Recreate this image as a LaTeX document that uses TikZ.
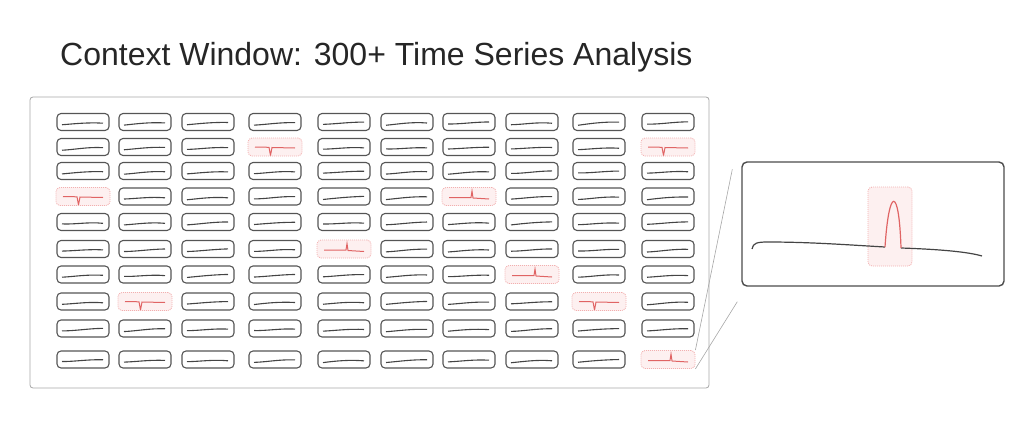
\documentclass[tikz,border=0pt]{standalone}
\usepackage{fontspec}
\setmainfont{Liberation Sans}
\definecolor{boxgray}{HTML}{555555}
\definecolor{linegray}{HTML}{444444}
\definecolor{hotred}{HTML}{E06464}
\definecolor{hotpink}{HTML}{F2AFAF}
\definecolor{hotfill}{HTML}{FDF0F0}

\begin{document}
\begin{tikzpicture}
[x=1pt,y=-1pt,%
  sparkline/.style={solid,sharp corners,draw=linegray,line width=1.1pt},%
  redline/.style={solid,sharp corners,draw=hotred,line width=1pt},%
  connector/.style={-,draw=black!35,line width=0.6pt},%
  plainbox/.style={shape=rectangle,draw=boxgray,line width=1.1pt,rounded corners=4pt,%
    minimum width=52pt,minimum height=17pt,inner sep=0pt,%
    path picture={\draw[sparkline,shift={(path picture bounding box.center)}]
      (-21,{2.6+0.7*rand}) .. controls (-8,{2+0.6*rand}) and (5,{0.3*rand}) .. (20,{0.6+0.8*rand});}},%
  hotbox/.style={shape=rectangle,draw=hotpink,fill=hotfill,line width=0.8pt,dash pattern=on 1pt off 1pt,%
    rounded corners=4pt,minimum width=54pt,minimum height=18pt,inner sep=0pt},%
  dipbox/.style={hotbox,path picture={\draw[redline,shift={(path picture bounding box.center)}]
      (-20,0) -- (-6,0.3) -- (-4.5,8.5) -- (-3,0.5) -- (20,1);}},%
  spikebox/.style={hotbox,path picture={\draw[redline,shift={(path picture bounding box.center)}]
      (-20,1) -- (2,1) -- (3,-5.5) -- (4,1.5) -- (20,2.5);}},%
  cell 2-4/.style=dipbox, cell 2-10/.style=dipbox, cell 4-1/.style=dipbox,%
  cell 4-7/.style=spikebox, cell 6-5/.style=spikebox, cell 7-8/.style=spikebox,%
  cell 8-2/.style=dipbox, cell 8-9/.style=dipbox, cell 10-10/.style=spikebox]
\pgfmathsetseed{7}
\useasboundingbox (0,0) rectangle (1024,425);
%% title and frame
\node (title) at (60,66) [anchor=base west,inner sep=0pt,text=black!85,
  font=\fontsize{32}{38}\selectfont] {Context Window: 300+ Time Series Analysis};
\node (window) at (369.5,242.5) [shape=rectangle,draw=black!35,line width=0.8pt,
  rounded corners=3pt,minimum width=679pt,minimum height=291pt] {};
%% series boxes
\foreach \row/\y in {1/122, 2/147, 3/171, 4/196.5, 5/222, 6/249,
  7/274.5, 8/301.5, 9/328.5, 10/359.5}
{
  \foreach \col/\x in {1/83, 2/145, 3/208, 4/275, 5/344, 6/407,
    7/469, 8/532, 9/599, 10/668}
  {
    \node (b-\row-\col) at (\x,\y) [plainbox,cell \row-\col/.try] {};
  }
}
%% zoomed series
\node (zoom) at (873,224) [shape=rectangle,draw=black!70,line width=1.4pt,
  rounded corners=5pt,minimum width=262pt,minimum height=124pt] {};
\node (peak) at (890,226.5) [hotbox,minimum width=44pt,minimum height=79pt] {};
\draw[sparkline,line width=1.2pt] (752,249) .. controls (753,243) and (757,242) .. (768,242)
  .. controls (810,242) and (850,245) .. (885,247);
\draw[sparkline,line width=1.2pt] (901,248) .. controls (930,249) and (965,251) .. (982,256);
\draw[redline,line width=1.2pt] (885,247) .. controls (889,186) and (899,186) .. (901,248);
%% zoom lines
\coordinate (zoom-top) at ([shift={(-9,8)}]zoom.north west);
\coordinate (zoom-bot) at ([shift={(-4,15)}]zoom.south west);
\draw[connector] (b-10-10.north east) -- (zoom-top);
\draw[connector] (b-10-10.south east) -- (zoom-bot);
\end{tikzpicture}
\end{document}
